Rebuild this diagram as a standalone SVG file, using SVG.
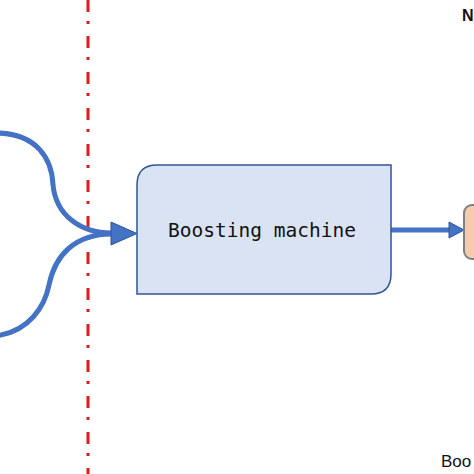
<svg xmlns="http://www.w3.org/2000/svg" width="474" height="474" viewBox="0 0 474 474">
<style>
.flow{fill:none;stroke:#4472c4;stroke-width:5;stroke-linecap:round}
.head{fill:#4472c4;stroke:#2f5597;stroke-width:1}
.lbl{font-family:"Liberation Sans",Arial,sans-serif;fill:#111}
</style>
<rect width="474" height="474" fill="#fff"/>
<line x1="88" y1="0" x2="88" y2="474" stroke="#e31a1c" stroke-width="3" stroke-dasharray="12 9 3 12"/>
<g id="connectors">
<path class="flow" d="M -5,133 C 38,133 52,160 53,185 C 56,215 80,233 112,233"/>
<path class="flow" d="M -5,336 C 30,332 45,305 49,285 C 55,255 75,234 112,234"/>
<polygon class="head" points="111,222 111,245 137,233.5"/>
<line x1="391" y1="230" x2="452" y2="230" stroke="#4472c4" stroke-width="5"/>
<polygon class="head" points="449,222 449,238 464,230"/>
</g>
<g id="boosting-machine">
<path d="M 157,165 H 391 V 274 Q 391,294 371,294 H 137 V 185 Q 137,165 157,165 Z" fill="#dae3f3" stroke="#2f5597" stroke-width="1.5"/>
<text x="262" y="237" text-anchor="middle" font-family="'DejaVu Sans Mono','Liberation Mono',monospace" font-size="19.5" fill="#111">Boosting machine</text>
</g>
<g id="output-node">
<rect x="464" y="205" width="30" height="54" rx="8" fill="#f8cbad" stroke="#7f7f7f" stroke-width="2"/>
</g>
<text class="lbl" x="462" y="21" font-size="16" font-weight="bold">N</text>
<text class="lbl" x="441" y="467" font-size="17">Boo</text>
</svg>
